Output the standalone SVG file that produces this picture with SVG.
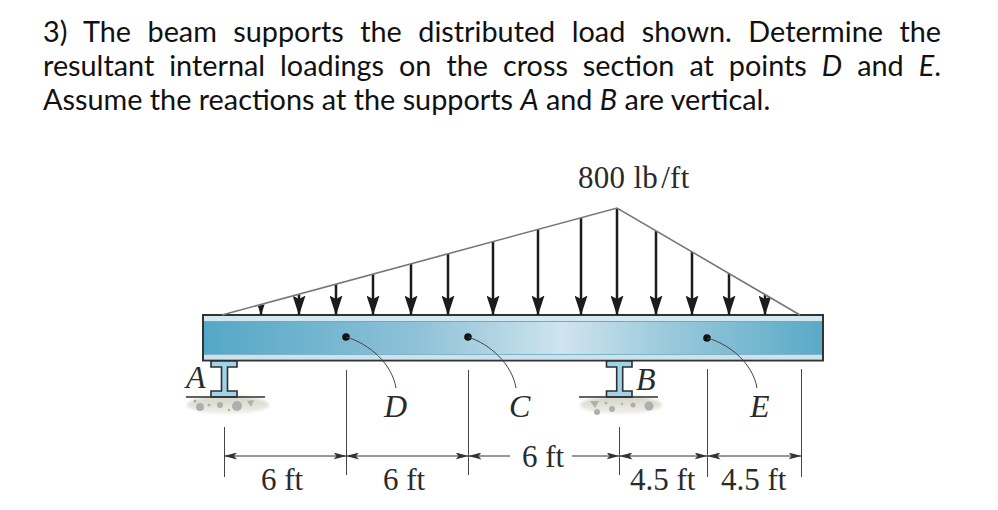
<svg xmlns="http://www.w3.org/2000/svg" width="998" height="510" viewBox="0 0 998 510">
<style>
.q{font-family:Lato,"Open Sans",sans-serif;font-size:28.8px;fill:#111}
.t{font-family:"Liberation Serif",serif;fill:#2a2a2a}
.m{font-size:31px}
.i{font-size:32px;font-style:italic}
.load{stroke:#777;stroke-width:1.6;fill:none}
.arr{stroke:#1c1c1c;stroke-width:2.500;marker-end:url(#big)}
.dim{stroke:#444;stroke-width:1;fill:none}
.da{stroke:#333;stroke-width:1;fill:none;marker-end:url(#small)}
.lead{stroke:#444;stroke-width:1;fill:none}
.sup{fill:#9fd3e8;stroke:#2e2e2e;stroke-width:1.6}
.gnd{stroke:#2e2e2e;stroke-width:1.6}
.rock{fill:#aeb0ae}
</style>
<defs>
<marker id="big" viewBox="0 0 20 13" refX="19.500" refY="6.500" markerWidth="20" markerHeight="13" markerUnits="userSpaceOnUse" orient="auto"><path d="M0 0 L3.500 6.500 L0 13 L20 6.500Z" fill="#1c1c1c"/></marker>
<marker id="small" viewBox="0 0 13 7" refX="12.500" refY="3.500" markerWidth="13" markerHeight="7" markerUnits="userSpaceOnUse" orient="auto"><path d="M0 0 L13 3.500 L0 7 L3 3.500Z" fill="#333"/></marker>
<linearGradient id="beamG" x1="0" x2="1" y1="0" y2="0">
<stop offset="0" stop-color="#54a7c6"/><stop offset="0.35" stop-color="#8fc2d8"/><stop offset="0.58" stop-color="#cfe4ee"/><stop offset="0.75" stop-color="#9ac9dc"/><stop offset="1" stop-color="#5aa9c7"/>
</linearGradient>
<linearGradient id="gnd" x1="0" x2="0" y1="0" y2="1"><stop offset="0" stop-color="#d2d2c6"/><stop offset="1" stop-color="#f1f1ea"/></linearGradient>
<filter id="soft" x="-10%" y="-30%" width="120%" height="160%"><feGaussianBlur stdDeviation="1.500"/></filter>
<clipPath id="tri"><path d="M222 316 L617 207 L800 316Z"/></clipPath>
</defs>
<g id="question">
<text class="q" x="43" y="42" word-spacing="9.100">3) The beam supports the distributed load shown. Determine the</text>
<text class="q" x="43" y="76" word-spacing="7.600">resultant internal loadings on the cross section at points <tspan font-style="italic">D</tspan> and <tspan font-style="italic">E</tspan>.</text>
<text class="q" x="43" y="110">Assume the reactions at the supports <tspan font-style="italic">A</tspan> and <tspan font-style="italic">B</tspan> are vertical.</text>
</g>
<g id="beam">
<rect x="203" y="315" width="620" height="45.500" fill="url(#beamG)" stroke="#333" stroke-width="2"/>
<rect x="204" y="316" width="618" height="5" fill="#d3e8f0"/>
<line x1="204" y1="321.500" x2="822" y2="321.500" stroke="#6fa9bf" stroke-width="1.200"/>
<rect x="204" y="355" width="618" height="4.500" fill="#cce3ee"/>
<line x1="204" y1="354.500" x2="822" y2="354.500" stroke="#7db6cb" stroke-width="1"/>
</g>
<g id="load">
<g clip-path="url(#tri)">
<line class="arr" x1="261" y1="304" x2="261" y2="315"/>
<line class="arr" x1="299" y1="294" x2="299" y2="315"/>
<line class="arr" x1="336" y1="284" x2="336" y2="315"/>
<line class="arr" x1="373" y1="274" x2="373" y2="315"/>
<line class="arr" x1="411" y1="264" x2="411" y2="315"/>
<line class="arr" x1="448" y1="254" x2="448" y2="315"/>
<line class="arr" x1="493" y1="241" x2="493" y2="315"/>
<line class="arr" x1="538" y1="229" x2="538" y2="315"/>
<line class="arr" x1="581" y1="218" x2="581" y2="315"/>
<line class="arr" x1="617" y1="208" x2="617" y2="315"/>
<line class="arr" x1="656" y1="231" x2="656" y2="315"/>
<line class="arr" x1="692" y1="252" x2="692" y2="315"/>
<line class="arr" x1="729" y1="273" x2="729" y2="315"/>
<line class="arr" x1="765" y1="294" x2="765" y2="315"/>
</g>
<path class="load" d="M222 315 L617 208 L800 315"/>
<text class="t m" x="578" y="188" letter-spacing="0.300">800 lb<tspan dx="3">/</tspan>ft</text>
</g>
<g id="support-A">
<ellipse cx="228" cy="405" rx="41" ry="9" fill="url(#gnd)" filter="url(#soft)"/>
<g class="rock"><circle cx="200" cy="407" r="4"/><circle cx="220" cy="405" r="3"/><circle cx="237" cy="406" r="5"/><circle cx="209" cy="405" r="1.500"/><path d="M247 401l7 -1l-3 7z"/><circle cx="229" cy="410" r="1.200"/><circle cx="195" cy="401" r="1.500"/></g>
<path class="sup" d="M211 361H237V367H227.500V391H237V397H211V391H221.500V367H211Z"/>
<line class="gnd" x1="186" y1="397" x2="265" y2="397"/>
<text class="t i" x="186" y="388">A</text>
</g>
<g id="support-B">
<ellipse cx="621" cy="405" rx="41" ry="9" fill="url(#gnd)" filter="url(#soft)"/>
<g class="rock"><path d="M590 401l9 0l-4 7z"/><circle cx="612" cy="409" r="3"/><circle cx="633" cy="405" r="2.500"/><circle cx="649" cy="406" r="4.500"/><circle cx="622" cy="404" r="1.200"/><circle cx="597" cy="412" r="3"/><circle cx="606" cy="403" r="1.500"/></g>
<path class="sup" d="M606.500 361H632V367H622.700V391H632V397H606.500V391H616.700V367H606.500Z"/>
<line class="gnd" x1="579" y1="397" x2="658" y2="397"/>
<text class="t i" x="636" y="390">B</text>
</g>
<g id="point-D"><circle cx="346" cy="337" r="3.800" fill="#111"/><text class="t i" x="384" y="417">D</text></g>
<g id="point-C"><circle cx="468" cy="337" r="3.800" fill="#111"/><text class="t i" x="509" y="417">C</text></g>
<g id="point-E"><circle cx="707" cy="338" r="3.800" fill="#111"/><text class="t i" x="750" y="417">E</text></g>
<g id="connectors">
<path class="lead" d="M346 337 C370 344 392 364 396 388"/>
<path class="lead" d="M468 337 C490 344 512 364 516 388"/>
<path class="lead" d="M707 338 C730 344 753 364 757 388"/>
<path class="dim" d="M224.500 427V477M346.500 370V475M468.500 370V475M619.500 427V475M707.500 369V477M801.500 369V477"/>
<path class="da" d="M286 456H224.500"/><path class="da" d="M286 456H346"/>
<path class="da" d="M408 456H346.500"/><path class="da" d="M408 456H468"/>
<path class="da" d="M510 456H469"/><path class="da" d="M572 456H619"/>
<path class="da" d="M664 456H620"/><path class="da" d="M664 456H707"/>
<path class="da" d="M755 456H708"/><path class="da" d="M755 456H801"/>
</g>
<g id="dimensions">
<text class="t m" x="261" y="490">6 ft</text>
<text class="t m" x="383" y="490">6 ft</text>
<text class="t m" x="522" y="467">6 ft</text>
<text class="t m" x="630" y="490">4.5 ft</text>
<text class="t m" x="721" y="490">4.5 ft</text>
</g>
</svg>
